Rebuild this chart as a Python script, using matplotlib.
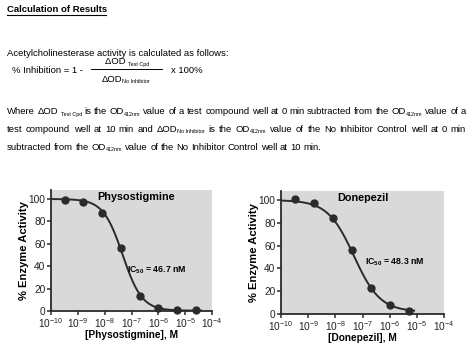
import numpy as np
import matplotlib
matplotlib.use("Agg")
import matplotlib.pyplot as plt
from matplotlib.ticker import LogLocator, NullLocator

plt.rcParams['font.family'] = ['Liberation Sans', 'DejaVu Sans']
plt.rcParams['mathtext.fontset'] = 'custom'
plt.rcParams['mathtext.rm'] = 'Liberation Sans'
plt.rcParams['mathtext.it'] = 'Liberation Sans:italic'
plt.rcParams['mathtext.bf'] = 'Liberation Sans:bold'

# -------- data --------
physo_conc = [3.2e-10, 1.6e-9, 8e-9, 4e-8, 2e-7, 1e-6, 5e-6, 2.5e-5]
physo_act = [99.4, 97.3, 87.5, 56.4, 13.4, 2.4, 0.9, 0.6]
physo_ic50 = 46.7e-9
physo_hill = 1.2
physo_top, physo_bottom = 100.0, 0.3

done_conc = [3.2e-10, 1.6e-9, 8e-9, 4e-8, 2e-7, 1e-6, 5e-6]
done_act = [100.9, 97.7, 84.5, 56.6, 22.9, 8.2, 2.6]
done_ic50 = 48.3e-9
done_hill = 0.9
done_top, done_bottom = 100.0, 2.0

y_ticks = [0, 20, 40, 60, 80, 100]

W, H = 474, 350
fig = plt.figure(figsize=(W / 100, H / 100), dpi=100)
FS = 6.8
SUB = 3.9
DARK = '#2b2b2b'


def fx(px):
    return px / W


def fy(py):
    return 1 - py / H


renderer = fig.canvas.get_renderer()


def make_word(word, y):
    # "main|sub" -> main text followed by a small subscript
    main, _, sub = word.partition('|')
    parts = []
    if main:
        parts.append(fig.text(0, fy(y), main, fontsize=FS, va='baseline'))
    if sub:
        parts.append(fig.text(0, fy(y + 1.3), sub, fontsize=SUB, va='baseline'))
    widths = [p.get_window_extent(renderer).width for p in parts]
    return parts, widths


def place_word(parts, widths, x):
    for p, w in zip(parts, widths):
        p.set_x(fx(x))
        x += w
    return x


def text_line(words, x0, y, x1=None, gap=2.4):
    built = [make_word(w, y) for w in words]
    total = sum(sum(ws) for _, ws in built)
    if x1 is not None:
        gap = (x1 - x0 - total) / (len(words) - 1)
    x = x0
    for parts, ws in built:
        x = place_word(parts, ws, x) + gap


def centered_word(word, xc, y):
    parts, ws = make_word(word, y)
    place_word(parts, ws, xc - sum(ws) / 2)


# -------- text block --------
fig.text(fx(7), fy(12.5), "Calculation of Results", fontsize=FS, fontweight='bold',
         va='baseline')
fig.add_artist(plt.Line2D([fx(7), fx(106)], [fy(14.6), fy(14.6)], color='black', lw=0.8))

fig.text(fx(7), fy(55.5), "Acetylcholinesterase activity is calculated as follows:",
         fontsize=FS, va='baseline')

fig.text(fx(12), fy(73), "% Inhibition = 1 -", fontsize=FS, va='baseline')
centered_word("\u0394OD |Test Cpd", 127, 64.5)
fig.add_artist(plt.Line2D([fx(91), fx(162)], [fy(69), fy(69)], color='black', lw=0.7))
centered_word("\u0394OD|No Inhibitor", 126, 82)
fig.text(fx(171), fy(73), "x 100%", fontsize=FS, va='baseline')

od = "OD|412nm"
line1 = ["Where", "\u0394OD", "|Test Cpd", "is", "the", od, "value", "of", "a",
         "test", "compound", "well", "at", "0", "min", "subtracted", "from", "the", od,
         "value", "of", "a"]
line2 = ["test", "compound", "well", "at", "10", "min", "and", "\u0394OD|No Inhibitor",
         "is", "the", od, "value", "of", "the", "No", "Inhibitor", "Control", "well", "at",
         "0", "min"]
line3 = ["subtracted", "from", "the", od, "value", "of", "the", "No", "Inhibitor",
         "Control", "well", "at", "10", "min."]
text_line(line1, 7, 114.5, x1=466)
text_line(line2, 7, 132, x1=466)
text_line(line3, 7, 149.5, gap=2.6)


# -------- charts --------
def dose_plot(rect, conc, act, ic50, hill, top, bottom, title, title_x, ic_xy, xlabel):
    ax = fig.add_axes(rect)
    ax.set_facecolor('#d9d9d9')
    xs = np.logspace(-10, np.log10(conc[-1]) + 0.2, 300)
    fit = bottom + (top - bottom) / (1 + (xs / ic50) ** hill)
    ax.plot(xs, fit, color=DARK, lw=1.4, zorder=2)
    ax.plot(conc, act, 'o', color=DARK, ms=5, zorder=3, clip_on=False)
    ax.set_xscale('log')
    ax.set_xlim(1e-10, 1e-4)
    ax.set_ylim(0, 108)
    ax.xaxis.set_major_locator(LogLocator(base=10, numticks=10))
    ax.xaxis.set_minor_locator(NullLocator())
    ax.set_yticks(y_ticks)
    for s in ['top', 'right']:
        ax.spines[s].set_visible(False)
    for s in ['left', 'bottom']:
        ax.spines[s].set_linewidth(1.3)
        ax.spines[s].set_color(DARK)
    ax.tick_params(direction='out', length=3, width=1.1, color=DARK, labelsize=7.3,
                   pad=1, labelcolor='#222222')
    ax.set_xlabel(xlabel, fontsize=7.3, fontweight='bold', labelpad=0)
    ax.set_ylabel("% Enzyme Activity", fontsize=8.1, fontweight='bold', labelpad=0)
    ax.text(title_x, 102, title, fontsize=7.8, fontweight='bold', ha='center', va='center')
    ax.text(ic_xy[0], ic_xy[1], "IC$_{\\mathbf{50}}$ = %.1f nM" % (ic50 * 1e9), fontsize=6.3,
            fontweight='bold', ha='left', va='center')
    return ax


dose_plot([fx(51), fy(311), fx(212 - 51), (311 - 190) / H], physo_conc, physo_act, physo_ic50,
          physo_hill, physo_top, physo_bottom, "Physostigmine", 10 ** -6.83,
          (10 ** -7.15, 36), "[Physostigmine], M")
dose_plot([fx(281), fy(314), fx(444 - 281), (314 - 191) / H], done_conc, done_act, done_ic50,
          done_hill, done_top, done_bottom, "Donepezil", 10 ** -6.98,
          (10 ** -6.9, 45), "[Donepezil], M")

fig.savefig("out.png", dpi=100)
